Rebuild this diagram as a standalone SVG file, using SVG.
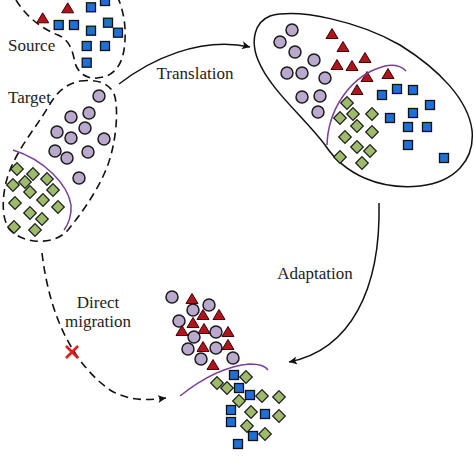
<svg xmlns="http://www.w3.org/2000/svg" xmlns:xlink="http://www.w3.org/1999/xlink" width="474" height="474" viewBox="0 0 474 474">
<style>
.lbl{font-size:17px;fill:#222}
.dash{fill:none;stroke:#111;stroke-width:1.6;stroke-dasharray:8 5}
.solid{fill:none;stroke:#111;stroke-width:1.5}
.split{fill:none;stroke:#7b3f98;stroke-width:1.5}
.arrow{fill:none;stroke:#111;stroke-width:1.5}
</style>
<defs>
<circle id="c" r="6" fill="#b9a9cc" stroke="#1a1a1a" stroke-width="1.5"/>
<rect id="s" x="-4.5" y="-4.5" width="9" height="9" fill="#1f6fd8" stroke="#111" stroke-width="1.3"/>
<path id="t" d="M0,-5.5 L6,4.5 L-6,4.5Z" fill="#b0141c" stroke="#3a0000" stroke-width="1"/>
<path id="d" d="M0,-6.3 L6.3,0 L0,6.3 L-6.3,0Z" fill="#9dbb6a" stroke="#1a1a1a" stroke-width="1.2"/>
<marker id="ah" markerUnits="userSpaceOnUse" markerWidth="10" markerHeight="8" refX="8" refY="4" orient="auto">
<path d="M0,0 L8,4 L0,8 L2,4Z" fill="#111"/>
</marker>
</defs>

<g id="source">
<path class="dash" d="M16,0 C25,15 40,28 58,35 C70,40 73,52 75,63 C78,73 86,79 97,78 C112,77 121,68 124,50 C127,30 124,12 118,-2"/>
<use xlink:href="#t" x="42.7" y="18.3"/><use xlink:href="#t" x="67.7" y="8.3"/>
<use xlink:href="#s" x="91" y="7.3"/><use xlink:href="#s" x="105" y="1"/><use xlink:href="#s" x="58.7" y="25"/><use xlink:href="#s" x="74" y="25"/>
<use xlink:href="#s" x="91" y="30.7"/><use xlink:href="#s" x="108" y="22.7"/><use xlink:href="#s" x="118" y="32.7"/><use xlink:href="#s" x="86.7" y="46"/>
<use xlink:href="#s" x="105" y="46"/><use xlink:href="#s" x="86.7" y="62.7"/>
<text class="lbl" font-family="Liberation Serif, Times New Roman, serif" x="8" y="51">Source</text>
</g>

<g id="target">
<path class="dash" d="M80,81 C95,79 111,82 115,97 C119,115 115,150 105,172 C95,195 80,215 68,230 C55,245 25,245 10,230 C0,218 2,190 10,170 C20,145 38,125 50,104 C57,92 66,84 80,81 Z"/>
<use xlink:href="#c" x="99" y="96"/><use xlink:href="#c" x="71" y="117"/><use xlink:href="#c" x="89" y="113"/><use xlink:href="#c" x="57" y="132"/>
<use xlink:href="#c" x="71" y="138"/><use xlink:href="#c" x="85" y="128"/><use xlink:href="#c" x="104" y="139"/><use xlink:href="#c" x="55" y="151"/>
<use xlink:href="#c" x="67" y="158"/><use xlink:href="#c" x="88" y="152"/><use xlink:href="#c" x="79" y="178"/>
<path class="split" d="M13,150 C45,160 68,185 71,205 C72,215 68,225 64,230"/>
<use xlink:href="#d" x="17" y="169"/><use xlink:href="#d" x="33" y="174"/><use xlink:href="#d" x="47" y="179"/><use xlink:href="#d" x="13" y="185"/>
<use xlink:href="#d" x="25" y="182"/><use xlink:href="#d" x="30" y="192"/><use xlink:href="#d" x="53" y="190"/><use xlink:href="#d" x="15" y="203"/>
<use xlink:href="#d" x="43" y="200"/><use xlink:href="#d" x="58" y="207"/><use xlink:href="#d" x="30" y="213"/><use xlink:href="#d" x="42" y="219"/>
<use xlink:href="#d" x="14" y="227"/><use xlink:href="#d" x="35" y="230"/>
<text class="lbl" font-family="Liberation Serif, Times New Roman, serif" x="8" y="103">Target</text>
</g>

<g id="translated">
<path class="solid" d="M270,16 C300,8 360,22 400,45 C440,70 468,100 472,130 C475,160 455,182 420,186 C380,190 345,175 325,145 C305,118 270,90 258,60 C250,40 255,22 270,16 Z"/>
<use xlink:href="#c" x="292" y="30"/><use xlink:href="#c" x="280" y="42"/><use xlink:href="#c" x="295" y="52"/><use xlink:href="#c" x="314" y="60"/>
<use xlink:href="#c" x="287" y="73"/><use xlink:href="#c" x="302" y="73"/><use xlink:href="#c" x="325" y="78"/><use xlink:href="#c" x="302" y="97"/>
<use xlink:href="#c" x="320" y="96"/><use xlink:href="#c" x="318" y="112"/>
<use xlink:href="#t" x="332" y="34"/><use xlink:href="#t" x="343" y="47"/><use xlink:href="#t" x="365" y="58"/><use xlink:href="#t" x="337" y="65"/>
<use xlink:href="#t" x="352" y="66"/><use xlink:href="#t" x="367" y="77"/><use xlink:href="#t" x="388" y="74"/><use xlink:href="#t" x="357" y="90"/>
<path class="split" d="M327,145 C328,110 350,75 385,66 C395,64 402,67 406,71"/>
<use xlink:href="#d" x="347" y="103"/><use xlink:href="#d" x="353" y="114"/><use xlink:href="#d" x="340" y="118"/><use xlink:href="#d" x="372" y="114"/>
<use xlink:href="#d" x="357" y="126"/><use xlink:href="#d" x="372" y="132"/><use xlink:href="#d" x="345" y="137"/><use xlink:href="#d" x="357" y="147"/>
<use xlink:href="#d" x="370" y="151"/><use xlink:href="#d" x="340" y="157"/><use xlink:href="#d" x="362" y="163"/>
<use xlink:href="#s" x="382" y="95"/><use xlink:href="#s" x="397" y="89"/><use xlink:href="#s" x="413" y="90"/><use xlink:href="#s" x="430" y="105"/>
<use xlink:href="#s" x="390" y="118"/><use xlink:href="#s" x="413" y="113"/><use xlink:href="#s" x="408" y="127"/><use xlink:href="#s" x="427" y="127"/>
<use xlink:href="#s" x="408" y="145"/><use xlink:href="#s" x="444" y="158"/>
</g>

<g id="adapted">
<use xlink:href="#c" x="172" y="297"/><use xlink:href="#c" x="193" y="310"/><use xlink:href="#c" x="209" y="305"/><use xlink:href="#c" x="179" y="321"/>
<use xlink:href="#c" x="194" y="337"/><use xlink:href="#c" x="216" y="332"/><use xlink:href="#c" x="188" y="349"/><use xlink:href="#c" x="216" y="348"/>
<use xlink:href="#c" x="201" y="359"/><use xlink:href="#c" x="233" y="358"/>
<use xlink:href="#t" x="192" y="299"/><use xlink:href="#t" x="203" y="315"/><use xlink:href="#t" x="219" y="315"/><use xlink:href="#t" x="193" y="323"/>
<use xlink:href="#t" x="182" y="331"/><use xlink:href="#t" x="204" y="329"/><use xlink:href="#t" x="228" y="332"/><use xlink:href="#t" x="203" y="347"/>
<use xlink:href="#t" x="228" y="345"/><use xlink:href="#t" x="213" y="365"/>
<path class="split" d="M180,396 C200,380 225,366 250,364 C260,364 266,367 268,370"/>
<use xlink:href="#s" x="234" y="375"/><use xlink:href="#s" x="239" y="388"/><use xlink:href="#s" x="250" y="395"/><use xlink:href="#s" x="231" y="410"/>
<use xlink:href="#s" x="231" y="422"/><use xlink:href="#s" x="265" y="414"/><use xlink:href="#s" x="253" y="436"/><use xlink:href="#s" x="238" y="444"/>
<use xlink:href="#d" x="246" y="377"/><use xlink:href="#d" x="217" y="383"/><use xlink:href="#d" x="227" y="388"/><use xlink:href="#d" x="262" y="396"/>
<use xlink:href="#d" x="279" y="397"/><use xlink:href="#d" x="239" y="401"/><use xlink:href="#d" x="251" y="412"/><use xlink:href="#d" x="279" y="416"/>
<use xlink:href="#d" x="247" y="426"/><use xlink:href="#d" x="265" y="434"/>
</g>

<g id="connectors">
<path class="arrow" d="M119,84 C150,60 200,36 250,47" marker-end="url(#ah)"/>
<path class="arrow" d="M379,203 C381,290 350,350 289,362" marker-end="url(#ah)"/>
<path class="dash" d="M42,253 C50,320 75,365 110,390 C130,402 150,400 166,398" marker-end="url(#ah)"/>
<path d="M66,346 L78,358 M78,346 L66,358" stroke="#e31b1b" stroke-width="2.6" fill="none"/>
<text class="lbl" font-family="Liberation Serif, Times New Roman, serif" x="195" y="79" text-anchor="middle">Translation</text>
<text class="lbl" font-family="Liberation Serif, Times New Roman, serif" x="315" y="279" text-anchor="middle">Adaptation</text>
<text class="lbl" font-family="Liberation Serif, Times New Roman, serif" x="98" y="308" text-anchor="middle">Direct</text>
<text class="lbl" font-family="Liberation Serif, Times New Roman, serif" x="98" y="327" text-anchor="middle">migration</text>
</g>
</svg>
